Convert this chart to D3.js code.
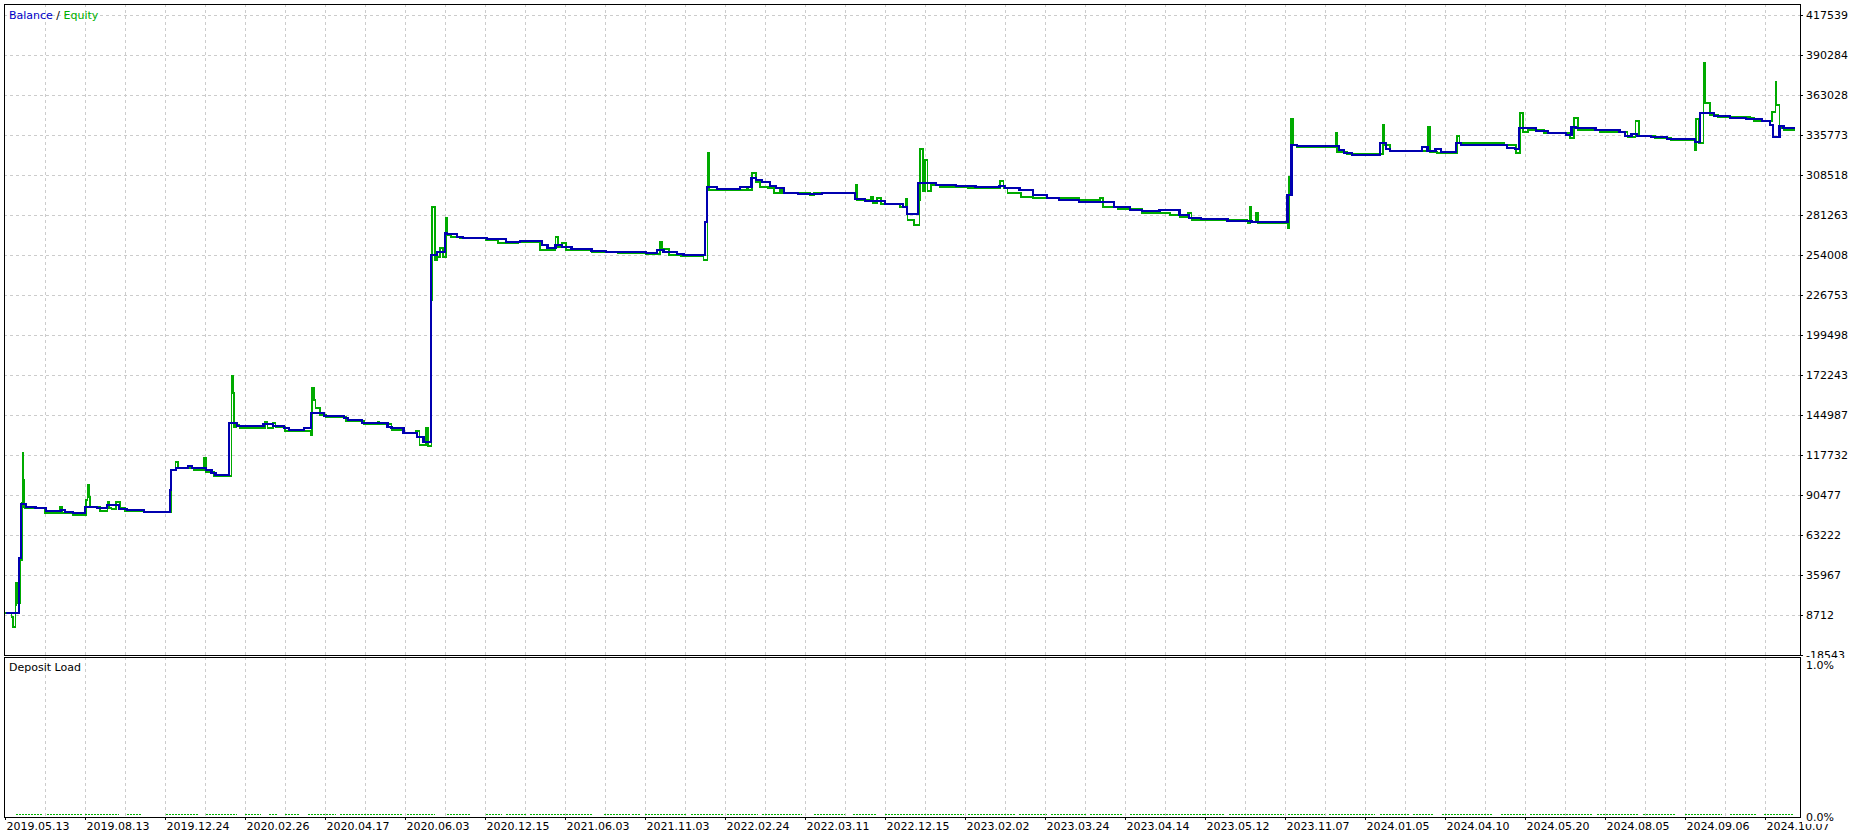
<!DOCTYPE html>
<html><head><meta charset="utf-8">
<script src="https://cdn.jsdelivr.net/npm/d3@7"></script>
<style>
html,body{margin:0;padding:0;background:#fff;overflow:hidden}
svg{display:block}
text{font-family:"DejaVu Sans",sans-serif;font-size:11px}
</style>
</head><body>
<svg id="c" width="1855" height="837"></svg>
<script>
// ---------- data ----------
const dateLabels = ["2019.05.13","2019.08.13","2019.12.24","2020.02.26","2020.04.17","2020.06.03","2020.12.15","2021.06.03","2021.11.03","2022.02.24","2022.03.11","2022.12.15","2023.02.02","2023.03.24","2023.04.14","2023.05.12","2023.11.07","2024.01.05","2024.04.10","2024.05.20","2024.08.05","2024.09.06","2024.10.07"];
const dealTicks = [0,100,200,300,400,500,600,700,800,900,1000,1100,1200,1300,1400,1500,1600,1700,1800,1900,2000,2100,2200];
const yTickValues = [417539,390284,363028,335773,308518,281263,254008,226753,199498,172243,144987,117732,90477,63222,35967,8712,-18543];
const depositTickValues = [1, 0];
const depositTickLabels = ["1.0%", "0.0%"];

// [deal number, balance]
const balance = [
[1,9870],[17,47346],[20,84345],[26,82505],[38,81415],[51,79575],[70,80256],[75,79098],[85,78008],
[100,82096],[115,81415],[127,83663],[142,80733],[152,80256],[174,79098],[206,93884],[207,107511],
[214,108670],[229,110237],[234,108670],[251,107511],[258,105672],[263,104105],[280,139332],[290,137492],
[323,138855],[335,137492],[349,135925],[355,134766],[374,135925],[382,146145],[399,144306],[424,142738],
[429,141580],[446,139332],[463,139740],[478,137015],[483,135925],[498,132927],[515,129792],[523,126794],
[532,254007],[540,256256],[550,269202],[552,268316],[565,266476],[572,265795],[602,264705],[626,263069],
[644,263751],[671,260821],[678,258981],[688,260821],[696,259254],[708,257891],[733,256937],[751,256256],
[801,255165],[815,257414],[823,256256],[840,254688],[848,254007],[875,276697],[877,300136],[890,298774],
[919,300136],[933,306269],[939,305110],[946,303952],[956,301022],[964,299455],[974,296457],[991,295571],
[1021,296048],[1062,291960],[1075,291006],[1100,288757],[1122,286917],[1127,281943],[1141,303270],
[1164,301703],[1189,301022],[1213,300136],[1243,301022],[1250,299455],[1268,298296],[1285,294890],
[1302,292641],[1317,291483],[1342,290324],[1386,286509],[1406,284669],[1421,283988],[1443,284669],
[1468,281262],[1480,279013],[1495,278332],[1528,277378],[1558,276697],[1603,294890],[1608,328958],
[1615,328481],[1667,325551],[1674,323712],[1684,322145],[1719,330525],[1726,326028],[1731,325074],
[1771,327800],[1778,325074],[1788,326028],[1795,324393],[1814,330117],[1820,328958],[1877,326710],
[1887,326028],[1892,340337],[1914,338702],[1929,337339],[1951,335772],[1958,341019],[1963,340337],
[1988,339179],[2018,338021],[2025,335091],[2033,336453],[2040,335091],[2057,334203],[2077,332841],
[2112,331206],[2119,350967],[2136,348718],[2156,347560],[2176,346470],[2196,345311],[2206,342586],
[2210,334203],[2218,341904],[2223,340337],[2238,340337]
];

// [deal number, equity]
const equity = [
[0,9870],[8,7554],[10,740],[13,15526],[14,30312],[15,16889],[19,46188],[21,85026],[22,118890],[23,100698],
[24,82505],[25,81415],[50,78417],[69,82505],[71,78008],[85,76850],[101,87070],[103,97291],[105,89319],
[106,82505],[119,79779],[128,85912],[130,81415],[133,80938],[139,85503],[144,81415],[150,79234],[206,78894],
[207,93884],[208,107511],[213,113167],[216,108670],[236,107511],[249,115892],[251,106353],[261,103628],
[281,103628],[283,171561],[285,159977],[286,137015],[289,138173],[293,136334],[325,140422],[328,136334],
[335,139332],[338,137015],[350,134289],[374,134085],[382,131360],[384,163589],[386,155208],[388,149552],
[394,144987],[401,143420],[426,141103],[449,138650],[466,140422],[468,138650],[483,134766],[498,132518],
[514,134289],[518,124546],[526,135925],[529,123864],[533,223345],[534,286917],[537,250600],[540,252849],
[544,258777],[547,252644],[551,279013],[553,267635],[557,266476],[569,265590],[601,264023],[616,262388],
[641,263069],[669,257414],[688,266476],[691,259662],[696,261979],[701,257414],[733,256256],[766,255574],
[801,254688],[818,254688],[819,263069],[821,257891],[830,254007],[845,253326],[873,250600],[878,323303],
[880,298296],[927,300545],[929,298296],[934,310084],[939,303952],[944,300545],[954,299455],[961,296457],
[969,299455],[971,296048],[1006,294890],[1011,296048],[1063,301703],[1065,291483],[1082,293321],
[1085,289233],[1090,292641],[1095,288757],[1119,286917],[1126,291960],[1128,277855],[1136,274448],
[1143,291483],[1144,326028],[1147,297819],[1150,318738],[1153,297819],[1157,301703],[1169,300545],
[1203,299455],[1244,304633],[1248,299455],[1253,296048],[1270,293736],[1285,292641],[1342,291483],
[1369,292641],[1372,286509],[1391,285146],[1421,282829],[1456,281262],[1468,280104],[1479,282420],
[1483,277855],[1553,275607],[1556,286509],[1558,276697],[1564,282829],[1566,276016],[1603,272200],
[1605,307359],[1607,346470],[1610,328958],[1615,327800],[1663,336930],[1665,324393],[1677,322826],
[1722,342382],[1724,328958],[1731,325074],[1779,341428],[1781,324393],[1790,323303],[1815,335091],
[1818,330117],[1874,328958],[1889,323303],[1894,350967],[1897,338021],[1904,339179],[1924,336930],
[1956,333524],[1961,347560],[1966,339179],[1993,338021],[2028,334203],[2038,345107],[2042,335091],
[2062,333524],[2082,332365],[2112,325551],[2114,346470],[2117,330117],[2123,384627],[2125,357372],
[2131,349400],[2141,348241],[2181,347151],[2186,345516],[2209,351648],[2213,372099],[2214,356213],
[2218,340337],[2223,339179],[2238,339179]
];

// deposit load (% of deposit): [first deal, last deal, load]
const depositLoad = [
[14,48,0.01],[53,98,0.01],[100,142,0.01],[152,171,0.01],[201,241,0.01],[251,290,0.01],[300,320,0.01],
[330,340,0.01],[350,369,0.01],[379,414,0.01],[419,498,0.01],[503,537,0.01],[552,581,0.01],[601,621,0.01],
[626,651,0.01],[656,735,0.01],[749,781,0.01],[784,794,0.01],[800,853,0.01],[858,898,0.01],[903,941,0.01],
[946,996,0.01],[1011,1050,0.01],[1060,1090,0.01],[1100,1199,0.01],[1204,1263,0.01],[1268,1303,0.01],
[1308,1351,0.01],[1356,1396,0.01],[1406,1500,0.01],[1499,1525,0.01],[1530,1599,0.01],[1604,1650,0.01],
[1655,1713,0.01],[1719,1755,0.01],[1760,1786,0.01],[1796,1859,0.01],[1870,1901,0.01],[1906,1985,0.01],
[1990,2042,0.01],[2047,2089,0.01],[2100,2146,0.01],[2156,2189,0.01],[2199,2235,0.01]
];

// ---------- layout ----------
const svg = d3.select("#c");
const P = {left:4, right:1800, top:4, bottom:655, dTop:657, dBottom:817};
const x = d3.scaleLinear().domain([0, 2200]).range([5, 1765]);
const y = d3.scaleLinear().domain([-18543, 417539]).range([655, 15]);
const yd = d3.scaleLinear().domain([0, 1]).range([817, 665]);

const gridColor = "#cccccc";
const dash = "3,3";

// vertical grid (both panels)
const vGrid = d3.range(50, 2201, 50);
const gv = svg.append("g").attr("shape-rendering","crispEdges");
gv.selectAll("line.v1").data(vGrid).join("line")
  .attr("x1", d => Math.round(x(d)) + 0.5).attr("x2", d => Math.round(x(d)) + 0.5)
  .attr("y1", P.top).attr("y2", P.bottom)
  .attr("stroke", gridColor).attr("stroke-dasharray", dash);
gv.selectAll("line.v2").data(vGrid).join("line")
  .attr("x1", d => Math.round(x(d)) + 0.5).attr("x2", d => Math.round(x(d)) + 0.5)
  .attr("y1", P.dTop).attr("y2", P.dBottom)
  .attr("stroke", gridColor).attr("stroke-dasharray", dash);
// horizontal grid
gv.selectAll("line.h").data(yTickValues.slice(0, -1)).join("line")
  .attr("x1", P.left).attr("x2", P.right)
  .attr("y1", d => Math.round(y(d)) + 0.5).attr("y2", d => Math.round(y(d)) + 0.5)
  .attr("stroke", gridColor).attr("stroke-dasharray", dash);

// deposit load
svg.append("g").attr("shape-rendering","crispEdges")
  .selectAll("line").data(depositLoad).join("line")
  .attr("x1", d => x(d[0])).attr("x2", d => x(d[1]))
  .attr("y1", d => yd(d[2]) - 0.5).attr("y2", d => yd(d[2]) - 0.5)
  .attr("stroke", "#00b000").attr("stroke-width", 1).attr("stroke-dasharray", "2,1");

// series
const line = d3.line().x(d => x(d[0])).y(d => y(d[1])).curve(d3.curveStepAfter);
svg.append("path").datum(equity).attr("d", line)
  .attr("fill","none").attr("stroke","#00aa00").attr("stroke-width",1.8)
  .attr("shape-rendering","crispEdges").attr("stroke-linejoin","miter");
svg.append("path").datum(balance).attr("d", line)
  .attr("fill","none").attr("stroke","#0000b0").attr("stroke-width",2.2)
  .attr("shape-rendering","crispEdges").attr("stroke-linejoin","miter");

// panel borders
const gb = svg.append("g").attr("shape-rendering","crispEdges").attr("fill","none").attr("stroke","#000");
gb.append("rect").attr("x", P.left + 0.5).attr("y", P.top + 0.5)
  .attr("width", P.right - P.left).attr("height", P.bottom - P.top);
gb.append("rect").attr("x", P.left + 0.5).attr("y", P.dTop + 0.5)
  .attr("width", P.right - P.left).attr("height", P.dBottom - P.dTop);

// right axis (balance / equity)
const ay = d3.axisRight(y).tickValues(yTickValues).tickSize(3).tickPadding(3).tickFormat(d => String(d));
const gy = svg.append("g").attr("transform", `translate(${P.right},0)`).call(ay);
gy.select(".domain").remove();
gy.selectAll("line").attr("stroke","#000").attr("shape-rendering","crispEdges");
gy.selectAll("text").attr("fill","#000").style("font-family","DejaVu Sans").style("font-size","11px");

// bottom axis
const ax = d3.axisBottom(x).tickValues(dealTicks).tickSize(3).tickFormat((d, i) => dateLabels[i]);
const gx = svg.append("g").attr("transform", `translate(0,${P.dBottom})`).call(ax);
gx.select(".domain").remove();
gx.selectAll("line").attr("stroke","#000").attr("shape-rendering","crispEdges");
gx.selectAll("text").attr("fill","#000").attr("text-anchor","start").attr("x",1).attr("y",5)
  .style("font-family","DejaVu Sans").style("font-size","11px");

// deposit axis labels (with white backing, drawn last)
const gd = svg.append("g");
depositTickValues.forEach((v, i) => {
  const cy = yd(v);
  gd.append("rect").attr("x", P.right + 2).attr("y", cy - 7).attr("width", 50).attr("height", 14).attr("fill", "#fff");
  gd.append("text").attr("x", P.right + 6).attr("y", cy).attr("dy","0.36em").attr("fill","#000").text(depositTickLabels[i]);
});

// titles
const t1 = svg.append("text").attr("x", 9).attr("y", 19);
t1.append("tspan").attr("fill","#0000c8").text("Balance");
t1.append("tspan").attr("fill","#000").text(" / ");
t1.append("tspan").attr("fill","#00b000").text("Equity");
svg.append("text").attr("x", 9).attr("y", 671).attr("fill","#000").text("Deposit Load");
</script>
</body></html>
